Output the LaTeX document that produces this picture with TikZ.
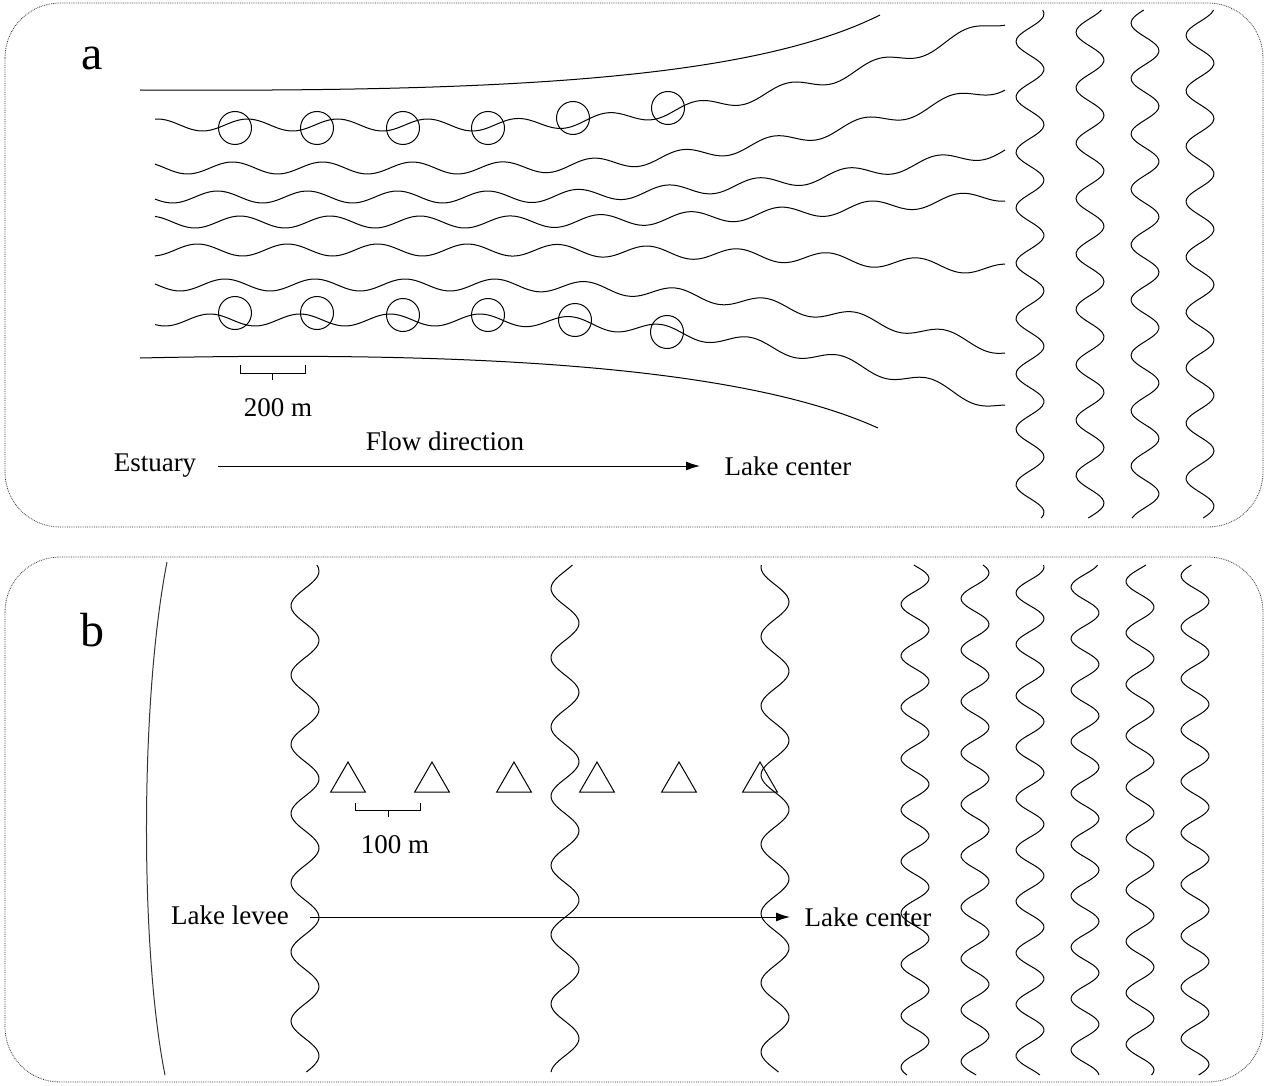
\documentclass[tikz,border=0pt]{standalone}
\usepackage{fontspec}
\setmainfont{Liberation Serif}
\usetikzlibrary{shapes.geometric,arrows.meta}
\begin{document}
\begin{tikzpicture}[x=1pt,y=-1pt,
  panel/.style={draw=black!80,densely dotted,rounded corners=55pt,line width=0.8pt},
  wl/.style={line width=1pt},
  lbl/.style={font=\fontsize{27}{29}\selectfont,inner sep=0pt},
  big/.style={font=\fontsize{48}{50}\selectfont,inner sep=0pt},
  circ/.style={circle,draw,line width=1pt,minimum size=33pt,inner sep=0pt},
  tri/.style={regular polygon,regular polygon sides=3,draw,line width=1pt,minimum size=40pt,inner sep=0pt},
  arr/.style={line width=1pt,-{Latex[length=14pt,width=9pt]}}]
\useasboundingbox (0,0) rectangle (1268,1086);
% panels
\draw[panel] (5,3) rectangle (1263,527);
\draw[panel] (5,557) rectangle (1263,1082);
\node[big] (la) at (92,58) {a};
\node[big] (lb) at (92,630) {b};
% panel a boundaries
\draw[wl] (140,90) .. controls (500,92) and (750,80) .. (880,15);
\draw[wl] (140,358) .. controls (500,350) and (750,370) .. (878,428);
% horizontal wavy lines
\foreach \yy/\e/\p in {125/20/0,168/85/60,197/150/120,222/195/30,250/270/200,285/350/90,320/408/150}{
  \draw[wl] plot[smooth,samples=140,domain=155:1005] (\x,{\yy+6*sin((\x*4)+\p)+(\e-\yy)*(max(0,\x-480)/525)^2});
}
% vertical wavy lines panel a
\foreach \xx/\p in {1030/0,1090/60,1145/120,1200/40}{
  \draw[wl] plot[smooth,samples=160,domain=10:518] ({\xx+14*sin(\x*6.5+\p)},\x);
}
% circles
\foreach \cx/\cy [count=\i] in {235/128,317/128,403/128,488/128,573/118,668/108}{\node[circ] (ct\i) at (\cx,\cy) {};}
\foreach \cx/\cy [count=\i] in {235/313,317/313,403/315,488/315,575/320,667/332}{\node[circ] (cb\i) at (\cx,\cy) {};}
% scale bar a
\draw[line width=1pt] (240,365) -- (240,373) -- (305,373) -- (305,365) (272,373) -- (272,380);
\node[lbl] (sa) at (278,408) {200 m};
\node[lbl] (est) at (155,466) {Estuary};
\node[lbl] (lca) at (788,466) {Lake center};
\node[lbl] (fd) at (445,441) {Flow direction};
\draw[arr] (218,466) -- (700,466);
% panel b
\draw[line width=1pt,black!80] (167,562) .. controls (140,700) and (140,950) .. (165,1075);
\foreach \xx/\p in {305/0,565/90,775/200}{
  \draw[wl] plot[smooth,samples=180,domain=565:1072] ({\xx+14*sin(\x*5.2+\p)},\x);
}
\foreach \xx/\p in {915/0,975/40,1030/80,1085/120,1140/160,1195/200}{
  \draw[wl] plot[smooth,samples=200,domain=565:1075] ({\xx+14*sin(\x*7+\p)},\x);
}
\foreach \tx [count=\i] in {348,432,514,597,679,760}{\node[tri] (t\i) at (\tx,782) {};}
\draw[line width=1pt] (355,803) -- (355,810) -- (420,810) -- (420,803) (388,810) -- (388,817);
\node[lbl] (sb) at (395,845) {100 m};
\node[lbl] (lev) at (230,915) {Lake levee};
\node[lbl] (lcb) at (868,917) {Lake center};
\draw[arr] (310,917) -- (790,917);
\end{tikzpicture}
\end{document}
